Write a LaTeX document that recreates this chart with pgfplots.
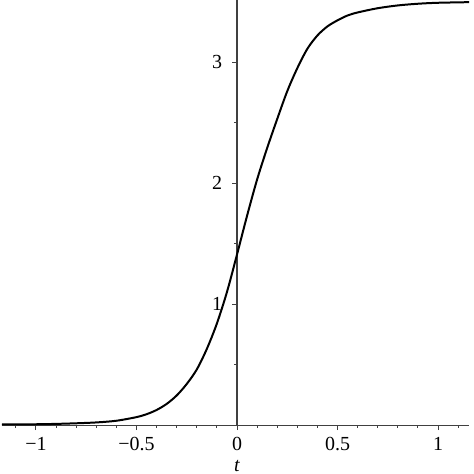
\documentclass[border=0pt]{standalone}
\usepackage{fontspec}
\setmainfont{Liberation Serif}
\usepackage{pgfplots}
\pgfplotsset{compat=1.18}
\begin{document}
\begin{tikzpicture}
\begin{axis}[
  scale only axis,
  width=234pt, height=213pt,
  axis lines=middle,
  axis line style={-, black!75, line width=0.6pt},
  xmin=-1.169, xmax=1.154,
  ymin=0, ymax=3.513,
  xtick={-1,-0.5,0,0.5,1},
  xticklabels={−1,−0.5,0,0.5,1},
  minor xtick={-1.1,-0.9,-0.8,-0.7,-0.6,-0.4,-0.3,-0.2,-0.1,0.1,0.2,0.3,0.4,0.6,0.7,0.8,0.9,1.1},
  ytick={1,2,3},
  yticklabels={1,2,3},
  minor ytick={0.5,1.5,2.5},
  hide obscured x ticks=false,
  tick align=outside,
  major tick length=2.5pt,
  minor tick length=1.5pt,
  tick style={black!75, line width=0.5pt},
  ticklabel style={font=\fontsize{10}{11}\selectfont},
  xticklabel style={inner sep=1pt, yshift=-2.2pt},
  yticklabel style={xshift=-1.5pt},
  xlabel={\textit{t}},
  xlabel style={at={(axis cs:0,0)}, anchor=base, yshift=-23pt, inner sep=0pt, font=\fontsize{10}{11}\selectfont},
  clip=false,
]
\addplot[black, line width=1pt, smooth] coordinates {
  (-1.169, 0.005)
  (-1.0, 0.007)
  (-0.9, 0.010)
  (-0.8, 0.015)
  (-0.7, 0.022)
  (-0.6, 0.036)
  (-0.5, 0.066)
  (-0.45, 0.09)
  (-0.4, 0.125)
  (-0.35, 0.175)
  (-0.3, 0.245)
  (-0.25, 0.34)
  (-0.2, 0.46)
  (-0.15, 0.63)
  (-0.1, 0.84)
  (-0.05, 1.10)
  (0, 1.41)
  (0.05, 1.73)
  (0.1, 2.03)
  (0.15, 2.29)
  (0.2, 2.53)
  (0.25, 2.76)
  (0.3, 2.95)
  (0.35, 3.11)
  (0.4, 3.22)
  (0.45, 3.295)
  (0.5, 3.345)
  (0.55, 3.385)
  (0.6, 3.41)
  (0.7, 3.445)
  (0.8, 3.468)
  (0.9, 3.482)
  (1.0, 3.49)
  (1.154, 3.495)
};
\end{axis}
\pgfresetboundingbox
\path ([xshift=-1pt]current axis.south west) ++(0,-24.5pt) rectangle ([xshift=2pt]current axis.north east);
\end{tikzpicture}
\end{document}
